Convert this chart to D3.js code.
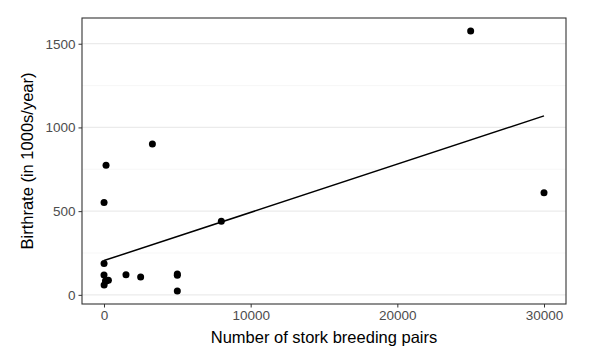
<!DOCTYPE html>
<html lang="en">
<head>
    <meta charset="UTF-8">
    <title>Storks and birthrate</title>
    <script src="https://d3js.org/d3.v7.min.js"></script>
    <style>
        body { margin: 0; background: #fff; }
        svg { font-family: "Liberation Sans", Arial, sans-serif; }
        .tick text { fill: #4d4d4d; font-size: 13.5px; }
        .tick line { stroke: #333; }
        .axis-label { font-size: 16.5px; fill: #000; }
    </style>
</head>
<body>
    <script>
        // storks per country vs birthrate
        const countries = ["Albania", "Austria", "Belgium", "Bulgaria", "Denmark", "France", "Germany", "Greece",
                           "Holland", "Hungary", "Italy", "Poland", "Portugal", "Romania", "Spain", "Switzerland", "Turkey"]
        const storks = [100, 300, 1, 5000, 9, 140, 3300, 2500, 4, 5000, 5, 30000, 1500, 5000, 8000, 150, 25000]
        const birthrate = [83, 87, 118, 117, 59, 774, 901, 106, 188, 124, 551, 610, 120, 23, 439, 82, 1576]
        const xTicks = [0, 10000, 20000, 30000]
        const yTicks = [0, 500, 1000, 1500]
        const yMinor = [250, 750, 1250]

        const margin = {top: 18, right: 34, bottom: 57, left: 82},
              width = 600 - margin.left - margin.right,
              height = 361 - margin.top - margin.bottom

        const svg = d3.select("body").append("svg")
            .attr("width", 600)
            .attr("height", 361)
            .append("g")
            .attr("transform", "translate(" + margin.left + "," + margin.top + ")")

        const xExt = d3.extent(storks), yExt = d3.extent(birthrate)
        const xPad = (xExt[1] - xExt[0]) * 0.05, yPad = (yExt[1] - yExt[0]) * 0.05

        const x = d3.scaleLinear()
            .domain([xExt[0] - xPad, xExt[1] + xPad])
            .range([0, width])
        const y = d3.scaleLinear()
            .domain([yExt[0] - yPad, yExt[1] + yPad])
            .range([height, 0])

        // grid
        svg.append("g").selectAll("line.minor")
            .data(yMinor).enter().append("line")
            .attr("x1", 0).attr("x2", width)
            .attr("y1", d => y(d)).attr("y2", d => y(d))
            .attr("stroke", "#f2f2f2").attr("stroke-width", 0.6)
        svg.append("g").selectAll("line.major")
            .data(yTicks).enter().append("line")
            .attr("x1", 0).attr("x2", width)
            .attr("y1", d => y(d)).attr("y2", d => y(d))
            .attr("stroke", "#ebebeb").attr("stroke-width", 1.2)

        // least squares fit
        const mx = d3.mean(storks), my = d3.mean(birthrate)
        const slope = d3.sum(storks, (s, i) => (s - mx) * (birthrate[i] - my)) / d3.sum(storks, s => (s - mx) * (s - mx))
        const intercept = my - slope * mx

        svg.append("line")
            .attr("x1", x(xExt[0])).attr("y1", y(intercept + slope * xExt[0]))
            .attr("x2", x(xExt[1])).attr("y2", y(intercept + slope * xExt[1]))
            .attr("stroke", "#000").attr("stroke-width", 1.5)

        svg.append("g")
            .selectAll("circle")
            .data(storks)
            .enter().append("circle")
            .attr("cx", d => x(d))
            .attr("cy", (d, i) => y(birthrate[i]))
            .attr("r", 3.5)
            .attr("fill", "#000")

        svg.append("rect")
            .attr("width", width).attr("height", height)
            .attr("fill", "none").attr("stroke", "#333").attr("stroke-width", 1.1)

        const xAxis = svg.append("g")
            .attr("transform", "translate(0," + height + ")")
            .call(d3.axisBottom(x).tickValues(xTicks).tickSize(3.5).tickPadding(3).tickFormat(d3.format("d")))
        const yAxis = svg.append("g")
            .call(d3.axisLeft(y).tickValues(yTicks).tickSize(3.5).tickPadding(3).tickFormat(d3.format("d")))
        xAxis.select(".domain").remove()
        yAxis.select(".domain").remove()

        svg.append("text")
            .attr("class", "axis-label")
            .attr("x", width / 2)
            .attr("y", height + 39)
            .style("text-anchor", "middle")
            .text("Number of stork breeding pairs")

        svg.append("text")
            .attr("class", "axis-label")
            .attr("transform", "rotate(-90)")
            .attr("x", -height / 2)
            .attr("y", -49)
            .style("text-anchor", "middle")
            .text("Birthrate (in 1000s/year)")
    </script>
</body>
</html>
